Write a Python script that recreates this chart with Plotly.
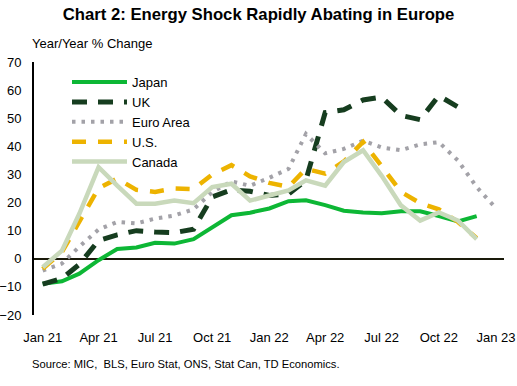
import plotly.graph_objects as go

months = ["2021-01-01", "2021-02-01", "2021-03-01", "2021-04-01", "2021-05-01", "2021-06-01",
          "2021-07-01", "2021-08-01", "2021-09-01", "2021-10-01", "2021-11-01", "2021-12-01",
          "2022-01-01", "2022-02-01", "2022-03-01", "2022-04-01", "2022-05-01", "2022-06-01",
          "2022-07-01", "2022-08-01", "2022-09-01", "2022-10-01", "2022-11-01", "2022-12-01",
          "2023-01-01"]

japan = [-8.9, -8.0, -5.3, -0.5, 3.5, 4.0, 5.7, 5.4, 7.0, 11.0, 15.5, 16.4,
         17.9, 20.5, 20.8, 19.1, 17.1, 16.5, 16.2, 16.9, 16.9, 15.2, 13.3, 15.2]
uk = [-9.0, -7.0, -2.0, 6.5, 8.5, 10.0, 9.5, 9.3, 10.5, 22.0, 24.5, 24.0,
      22.5, 23.0, 28.0, 52.0, 53.0, 56.5, 57.5, 51.0, 49.5, 58.0, 54.0]
euro = [-4.2, -1.7, 4.3, 10.4, 13.1, 12.6, 14.3, 15.4, 17.6, 23.7, 27.5, 26.0,
        28.8, 32.0, 44.4, 37.5, 39.1, 42.0, 39.6, 38.6, 40.7, 41.5, 34.9, 25.5, 18.0]
us = [-3.6, 2.4, 13.2, 25.1, 28.5, 24.5, 23.8, 25.0, 24.8, 30.0, 33.3, 29.3,
      27.0, 25.6, 32.0, 30.3, 34.6, 41.6, 32.9, 23.8, 19.8, 17.6, 13.1, 7.3]
canada = [-3.0, 2.9, 16.0, 32.6, 26.0, 19.6, 19.6, 20.7, 19.8, 25.5, 26.7, 20.7,
          22.5, 24.3, 27.9, 26.0, 34.4, 38.6, 29.5, 19.0, 13.6, 16.5, 13.6, 7.0]

tick_vals = ["2021-01-01", "2021-04-01", "2021-07-01", "2021-10-01", "2022-01-01",
             "2022-04-01", "2022-07-01", "2022-10-01", "2023-01-01"]
tick_text = ["Jan 21", "Apr 21", "Jul 21", "Oct 21", "Jan 22", "Apr 22", "Jul 22", "Oct 22", "Jan 23"]

FONT = "Liberation Sans, Arial, sans-serif"

series = [
    ("Japan", japan, "#0DB735", 4, "solid"),
    ("UK", uk, "#163D1F", 5, "15px,11px"),
    ("Euro Area", euro, "#A3A2A8", 4, "3.5px,6px"),
    ("U.S.", us, "#EDB300", 4.5, "14px,12px"),
    ("Canada", canada, "#C9D9BB", 4.5, "solid"),
]

W, H = 517, 386
L, R, T, B = 34, 13, 62, 71
pw = W - L - R
ph = H - T - B

fig = go.Figure()
for name, vals, color, width, dash in series:
    fig.add_trace(go.Scatter(
        x=months[:len(vals)], y=vals, name=name, mode="lines",
        line=dict(color=color, width=width, dash=dash),
    ))

fig.update_layout(
    template="none",
    width=W, height=H,
    margin=dict(l=L, r=R, t=T, b=B, autoexpand=False),
    paper_bgcolor="white", plot_bgcolor="white",
    font=dict(family=FONT, size=13, color="#000000"),
    showlegend=True,
    legend=dict(x=(67 - L) / pw, y=0.98, xanchor="left", yanchor="top",
                bgcolor="rgba(0,0,0,0)", borderwidth=0,
                font=dict(size=13, color="#000"),
                itemwidth=55, tracegroupgap=0),
    title=dict(text="<b>Chart 2: Energy Shock Rapidly Abating in Europe</b>",
               x=0.5, xanchor="center", y=1 - 14 / H, yanchor="middle",
               font=dict(size=16.7, color="#000", family=FONT)),
    xaxis=dict(type="date", range=["2020-12-18", "2023-01-14"],
               tickvals=tick_vals, ticktext=tick_text, automargin=False,
               showgrid=False, showline=False, zeroline=False,
               ticks="outside", ticklen=10, tickcolor="rgba(0,0,0,0)",
               tickfont=dict(size=13, color="#000")),
    yaxis=dict(range=[-20, 70], dtick=10, showgrid=False, automargin=False,
               showline=True, linecolor="#000", linewidth=2,
               zeroline=True, zerolinecolor="#1a1a0a", zerolinewidth=2,
               ticks="outside", ticklen=8, tickcolor="rgba(0,0,0,0)",
               tickfont=dict(size=13, color="#000")),
    annotations=[
        dict(text="Year/Year % Change", x=(30 - L) / pw, y=(H - B - 43) / ph,
             xref="paper", yref="paper", xanchor="left", yanchor="middle",
             showarrow=False, font=dict(size=13, color="#000")),
        dict(text="Source: MIC,  BLS, Euro Stat, ONS, Stat Can, TD Economics.",
             x=(30 - L) / pw, y=(H - B - 364) / ph,
             xref="paper", yref="paper", xanchor="left", yanchor="middle",
             showarrow=False, font=dict(size=11.2, color="#000")),
    ],
)

fig.write_html("out.html")
